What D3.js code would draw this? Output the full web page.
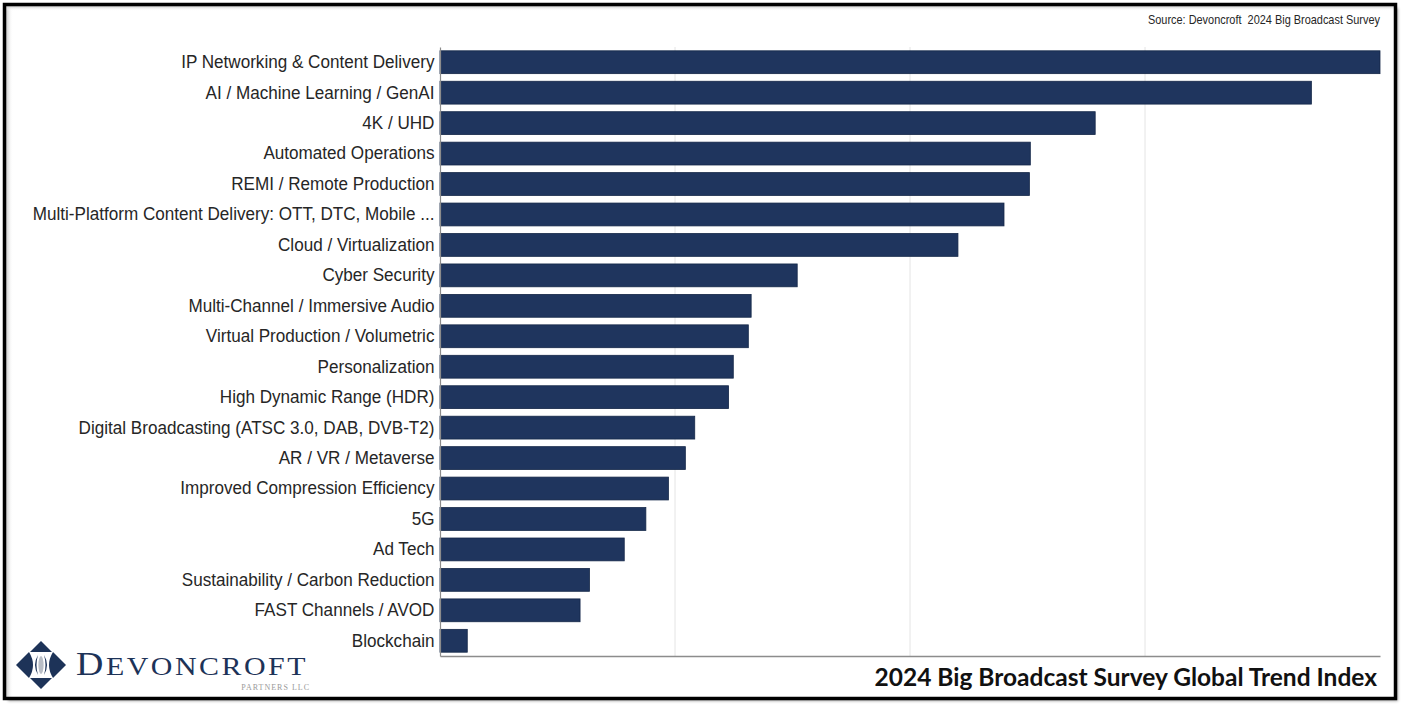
<!DOCTYPE html>
<html>
<head>
<meta charset="utf-8">
<script src="https://cdn.jsdelivr.net/npm/d3@7"></script>
<style>
  html, body { margin: 0; padding: 0; background: #ffffff; }
  svg { display: block; }
  .label { font-family: "Liberation Sans Narrow", "Arial Narrow", "Liberation Sans", sans-serif; fill: #262626; }
</style>
</head>
<body>
<svg id="chart" width="1408" height="713"></svg>
<script>
// ---------------------------  DATA  ---------------------------
// Trend names, top to bottom, as they appear on the chart
const trends = [
    "IP Networking & Content Delivery",
    "AI / Machine Learning / GenAI",
    "4K / UHD",
    "Automated Operations",
    "REMI / Remote Production",
    "Multi-Platform Content Delivery: OTT, DTC, Mobile ...",
    "Cloud / Virtualization",
    "Cyber Security",
    "Multi-Channel / Immersive Audio",
    "Virtual Production / Volumetric",
    "Personalization",
    "High Dynamic Range (HDR)",
    "Digital Broadcasting (ATSC 3.0, DAB, DVB-T2)",
    "AR / VR / Metaverse",
    "Improved Compression Efficiency",
    "5G",
    "Ad Tech",
    "Sustainability / Carbon Reduction",
    "FAST Channels / AVOD",
    "Blockchain"
];

// Index values (top bar = 100)
const index_values = [100, 92.7, 69.7, 62.8, 62.7, 60.0, 55.1, 38.0, 33.1, 32.8,
                      31.2, 30.7, 27.1, 26.1, 24.3, 21.9, 19.6, 15.9, 14.9, 2.9];

// Vertical gridlines (no tick labels are shown on the chart)
const grid_ticks = [25, 50, 75];

const source_text = "Source: Devoncroft  2024 Big Broadcast Survey";
const title_text  = "2024 Big Broadcast Survey Global Trend Index";

// ---------------------------  LAYOUT  ---------------------------
const plot = { left: 440, right: 1380, top: 47, bottom: 656 };
const bar_color = "#1f355e";
const narrow = 0.925;   // no narrow font installed: squeeze the labels horizontally

const svg = d3.select("#chart");

// Frame: drop shadow, inner shading, thick black border
const defs = svg.append("defs");
const shadow = defs.append("filter").attr("id", "shadow")
    .attr("x", "-2%").attr("y", "-2%").attr("width", "104%").attr("height", "104%");
shadow.append("feDropShadow")
    .attr("dx", 3).attr("dy", 3).attr("stdDeviation", 1.5)
    .attr("flood-color", "#000").attr("flood-opacity", 0.35);

const inner_left = defs.append("linearGradient").attr("id", "inner_left")
    .attr("x1", 0).attr("x2", 1).attr("y1", 0).attr("y2", 0);
inner_left.append("stop").attr("offset", 0).attr("stop-color", "#c8c8c8");
inner_left.append("stop").attr("offset", 1).attr("stop-color", "#ffffff").attr("stop-opacity", 0);
const inner_top = defs.append("linearGradient").attr("id", "inner_top")
    .attr("x1", 0).attr("x2", 0).attr("y1", 0).attr("y2", 1);
inner_top.append("stop").attr("offset", 0).attr("stop-color", "#c8c8c8");
inner_top.append("stop").attr("offset", 1).attr("stop-color", "#ffffff").attr("stop-opacity", 0);

svg.append("rect")
    .attr("x", 5).attr("y", 5).attr("width", 1390).attr("height", 693)
    .attr("fill", "#fff").attr("filter", "url(#shadow)");
svg.append("rect").attr("x", 6).attr("y", 6).attr("width", 7).attr("height", 691).attr("fill", "url(#inner_left)");
svg.append("rect").attr("x", 6).attr("y", 6).attr("width", 1388).attr("height", 5).attr("fill", "url(#inner_top)");

// ---------------------------  SCALES  ---------------------------
const x = d3.scaleLinear()
    .domain([0, 100])
    .range([plot.left, plot.right]);

const y = d3.scaleBand()
    .domain(trends)
    .range([plot.top, plot.bottom])
    .paddingInner(0.25)
    .paddingOuter(0.125);

// Gridlines
svg.append("g")
    .attr("class", "grid")
    .selectAll("line")
    .data(grid_ticks)
    .join("line")
    .attr("x1", d => x(d)).attr("x2", d => x(d))
    .attr("y1", plot.top).attr("y2", plot.bottom)
    .attr("stroke", "#e4e4e4").attr("stroke-width", 1);

// Bars
svg.append("g")
    .attr("class", "bars")
    .selectAll("rect")
    .data(trends)
    .join("rect")
    .attr("x", x(0))
    .attr("y", d => y(d))
    .attr("width", (d, i) => x(index_values[i]) - x(0))
    .attr("height", y.bandwidth())
    .attr("fill", bar_color)
    .attr("stroke", "#142748").attr("stroke-width", 0.8);

// Axes: plain grey lines, category labels on the left
const y_axis = svg.append("g")
    .attr("transform", `translate(${plot.left},0)`)
    .call(d3.axisLeft(y).tickSize(0).tickPadding(6));
y_axis.select(".domain").attr("stroke", "#8c8c8c").attr("stroke-width", 1.2);
y_axis.selectAll("text")
    .attr("class", "label")
    .attr("font-size", 18.5)
    .attr("transform", `scale(${narrow},1)`);

const x_axis = svg.append("g")
    .attr("transform", `translate(0,${plot.bottom})`)
    .call(d3.axisBottom(x).tickValues([]).tickSizeOuter(0));
x_axis.select(".domain").attr("stroke", "#8c8c8c").attr("stroke-width", 1.5);

// Source note (keeps its double space)
svg.append("text")
    .attr("class", "label")
    .attr("transform", "translate(1380,24) scale(0.875,1)")
    .attr("text-anchor", "end")
    .attr("font-size", 12.5)
    .style("white-space", "pre")
    .text(source_text);

// Title
svg.append("text")
    .attr("x", 1377).attr("y", 686)
    .attr("text-anchor", "end")
    .attr("font-family", "Lato, 'Open Sans', sans-serif")
    .attr("font-weight", "bold")
    .attr("font-size", 24.5)
    .attr("fill", "#111")
    .text(title_text);

// ---------------------------  LOGO  ---------------------------
const logo = svg.append("g").attr("transform", "translate(41,665)");
const navy = "#1d3358";
// top and bottom triangles
logo.append("path").attr("d", "M0,-24 L11,-13 L-11,-13 Z").attr("fill", navy);
logo.append("path").attr("d", "M0,24 L11,13 L-11,13 Z").attr("fill", navy);
// left and right wings with curved inner edge
logo.append("path").attr("d", "M-25,0 L-12,-13 Q-4,0 -12,13 Z").attr("fill", navy);
logo.append("path").attr("d", "M25,0 L12,-13 Q4,0 12,13 Z").attr("fill", navy);
// inner parentheses and grey lens
logo.append("path").attr("d", "M-3,-10 Q-9,0 -3,10 Q-6,0 -3,-10 Z").attr("fill", navy);
logo.append("path").attr("d", "M3,-10 Q9,0 3,10 Q6,0 3,-10 Z").attr("fill", navy);
logo.append("ellipse").attr("cx", 0).attr("cy", 0).attr("rx", 2.6).attr("ry", 9).attr("fill", "#b9bec6");

const word = svg.append("text")
    .attr("transform", "translate(76,675) scale(1.15,1)")
    .attr("font-family", "'Liberation Serif', 'DejaVu Serif', serif")
    .attr("fill", navy)
    .attr("letter-spacing", 2.2);
word.append("tspan").attr("font-size", 33).text("D");
word.append("tspan").attr("font-size", 26).text("EVONCROFT");

svg.append("text")
    .attr("x", 310).attr("y", 690)
    .attr("text-anchor", "end")
    .attr("font-family", "'Liberation Serif', serif")
    .attr("font-size", 8)
    .attr("letter-spacing", 1)
    .attr("fill", "#9a9a9a")
    .text("PARTNERS LLC");

// Thick black frame on top
svg.append("rect")
    .attr("x", 4.5).attr("y", 4.5).attr("width", 1391).attr("height", 694)
    .attr("fill", "none").attr("stroke", "#000").attr("stroke-width", 3.5);
</script>
</body>
</html>
